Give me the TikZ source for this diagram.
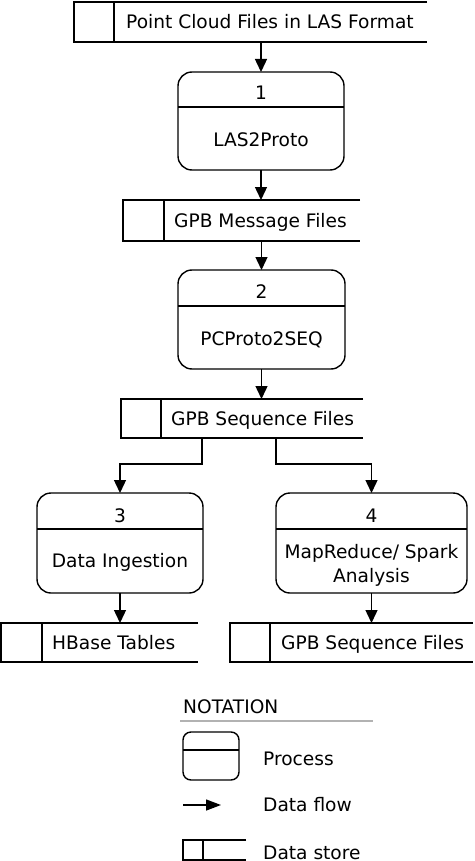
\documentclass[tikz,border=0pt]{standalone}
\usepackage{fontspec}
\setmainfont{DejaVu Sans}
\usetikzlibrary{arrows.meta}
\tikzset{
  every picture/.style={x=1pt,y=-1pt},
  ln/.style={line width=1.4pt},
  proc/.style={ln, draw, rounded corners=14pt, inner sep=0pt, outer sep=0pt},
  storebox/.style={inner sep=0pt, outer sep=0pt},
  lbl/.style={inner sep=0pt, font=\fontsize{18.6}{23.5}\selectfont},
  flow/.style={ln, -{Triangle[length=13pt,width=12pt]}},
}
\newcommand\dstore[2]{%
  \draw[ln] (#1.north east) -- (#1.north west) -- (#1.south west) -- (#1.south east);
  \draw[ln] ([xshift=#2]#1.north west) -- ([xshift=#2]#1.south west);}
\newcommand\pdiv[2]{\draw[ln] (#1.west |- 0,#2) -- (#1.east |- 0,#2);}
\begin{document}
\begin{tikzpicture}
\useasboundingbox (0,0) rectangle (474,861);
% stores
\node[storebox, minimum width=353pt, minimum height=40pt] (s1) at (250.5,22) {};
\dstore{s1}{40pt}
\node[lbl, anchor=base west] (t1) at (126,29) {Point Cloud Files in LAS Format};

\node[storebox, minimum width=237pt, minimum height=41pt] (s2) at (241.5,220.5) {};
\dstore{s2}{41pt}
\node[lbl, anchor=base west] (t2) at (174,227) {GPB Message Files};

\node[storebox, minimum width=242pt, minimum height=39pt] (s3) at (242,418.5) {};
\dstore{s3}{40pt}
\node[lbl, anchor=base west] (t3) at (171,425) {GPB Sequence Files};

\node[storebox, minimum width=197pt, minimum height=39pt] (s4) at (99.5,642.5) {};
\dstore{s4}{41pt}
\node[lbl, anchor=base west] (t4) at (52,649) {HBase Tables};

\node[storebox, minimum width=243pt, minimum height=39pt] (s5) at (351.5,642.5) {};
\dstore{s5}{40pt}
\node[lbl, anchor=base west] (t5) at (281,649) {GPB Sequence Files};

% processes
\node[proc, minimum width=166pt, minimum height=98pt] (p1) at (261,121) {};
\pdiv{p1}{107}
\node[lbl, anchor=base] (n1) at (261,100) {1};
\node[lbl, anchor=base] (l1) at (261,147) {LAS2Proto};

\node[proc, minimum width=167pt, minimum height=99pt] (p2) at (261.5,319.5) {};
\pdiv{p2}{306}
\node[lbl, anchor=base] (n2) at (261.5,298) {2};
\node[lbl, anchor=base] (l2) at (261.5,345) {PCProto2SEQ};

\node[proc, minimum width=166pt, minimum height=100pt] (p3) at (120,543) {};
\pdiv{p3}{529}
\node[lbl, anchor=base] (n3) at (120,522) {3};
\node[lbl, anchor=base] (l3) at (120,567) {Data Ingestion};

\node[proc, minimum width=191pt, minimum height=100pt] (p4) at (371.5,543) {};
\pdiv{p4}{529}
\node[lbl, anchor=base] (n4) at (371.5,522) {4};
\node[lbl, anchor=base, align=center] (l4) at (371.5,582) {MapReduce/ Spark\\Analysis};

% flows
\draw[flow] (s1.south -| p1.north) -- (p1.north);
\draw[flow] (p1.south) -- (s2.north -| p1.south);
\draw[flow] (s2.south -| p2.north) -- (p2.north);
\draw[flow] (p2.south) -- (s3.north -| p2.south);
\coordinate (b3) at (202,464);
\coordinate (b4) at (276,464);
\draw[flow] (s3.south -| b3) -- (b3) -| (p3.north);
\draw[flow] (s3.south -| b4) -- (b4) -| (p4.north);
\draw[flow] (p3.south) -- (s4.north -| p3.south);
\draw[flow] (p4.south) -- (s5.north -| p4.south);

% notation
\node[lbl, anchor=base west] (nt) at (183,713) {NOTATION};
\coordinate (g1) at (180,721);
\coordinate (g2) at (373,721);
\draw[line width=1.4pt, color=black!30] (g1) -- (g2);
\node[proc, rounded corners=8pt, minimum width=56pt, minimum height=48pt] (lp) at (211,756) {};
\pdiv{lp}{750}
\node[lbl, anchor=base west] (lpt) at (263,765) {Process};
\coordinate (a1) at (183,805);
\coordinate (a2) at (221,805);
\draw[ln, -{Triangle[length=15pt,width=11pt]}] (a1) -- (a2);
\node[lbl, anchor=base west] (lft) at (263,811) {Data flow};
\node[storebox, minimum width=63pt, minimum height=20pt] (ls) at (214.5,850) {};
\dstore{ls}{20pt}
\node[lbl, anchor=base west] (lst) at (263,859) {Data store};
\end{tikzpicture}
\end{document}
